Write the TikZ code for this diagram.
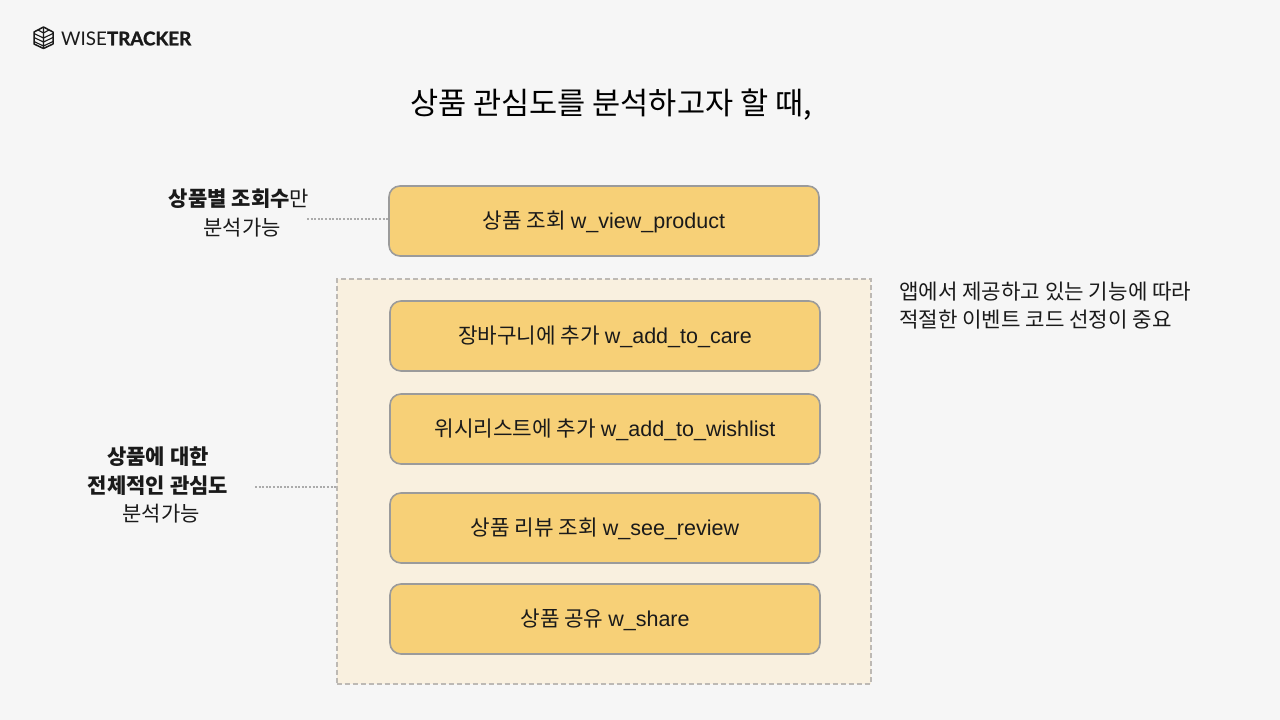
\documentclass[tikz,border=0pt]{standalone}
\usepackage{fontspec}
\setmainfont{Noto Sans CJK KR}
\newfontfamily\logofont[BoldFeatures={FakeBold=1.5}]{Lato}
\newfontfamily\latinfont{Liberation Sans}
\newcommand{\lat}[1]{{\latinfont\fontsize{21.5}{24}\selectfont #1}}
\definecolor{bgc}{HTML}{F6F6F6}
\definecolor{boxc}{HTML}{F7D077}
\definecolor{boxl}{HTML}{9B9B9B}
\definecolor{panelc}{HTML}{F9F0DF}
\definecolor{panell}{HTML}{BDB9B4}
\definecolor{dotc}{HTML}{ABABAB}
\definecolor{inkc}{HTML}{1A1A1A}
\tikzset{
 eventbox/.style={draw=boxl,line width=1.6pt,fill=boxc,rounded corners=11pt,minimum width=430pt,minimum height=70pt,inner sep=0pt,font=\fontsize{21.3}{24}\selectfont,text=inkc,text depth=3pt,text height=17pt},
 sidelabel/.style={align=center,inner sep=0pt,text=inkc,font=\fontsize{21}{28.5}\selectfont},
 noteline/.style={draw=dotc,line width=2pt,dash pattern=on 2pt off 1.6pt},
 panel/.style={draw=panell,line width=2pt,dash pattern=on 5pt off 3pt,fill=panelc,minimum width=534pt,minimum height=405pt,inner sep=0pt},
 logoline/.style={draw=inkc,line width=1.5pt,line join=round}
}
\begin{document}
\begin{tikzpicture}[x=1pt,y=-1pt]
\useasboundingbox (0,0) rectangle (1280,720);
\fill[bgc] (0,0) rectangle (1280,720);
% logo
\draw[logoline] (43.5,27) -- (53,32) -- (53,44) -- (43.5,48.5) -- (34,44) -- (34,32) -- cycle;
\draw[logoline,line width=1.1pt] (43.5,27) -- (43.5,48.5)
 (34,33.5) -- (43.5,38) -- (53,33.5) (34,37.5) -- (43.5,42) -- (53,37.5) (34,41.5) -- (43.5,46) -- (53,41.5)
 (38,30) -- (43.5,33) -- (49,30);
\node[anchor=west,inner sep=0pt,text=inkc,font=\logofont\fontsize{18.8}{22}\selectfont] (logo) at (61,38.5) {WISE\textbf{TRACKER}};
% title
\node[inner sep=0pt,text=black,font=\fontsize{30.6}{38}\selectfont] (title) at (611,105) {상품 관심도를 분석하고자 할 때,};
% panel
\node[panel,anchor=north west] (group) at (335.5,277.5) {};
% boxes
\node[eventbox] (view) at (604,221) {상품 조회 \lat{w\_view\_product}};
\node[eventbox] (cart) at (605,336) {장바구니에 추가 \lat{w\_add\_to\_care}};
\node[eventbox] (wish) at (605,429) {위시리스트에 추가 \lat{w\_add\_to\_wishlist}};
\node[eventbox] (review) at (605,528) {상품 리뷰 조회 \lat{w\_see\_review}};
\node[eventbox] (share) at (605,619) {상품 공유 \lat{w\_share}};
% side labels
\node[sidelabel] (lab1) at (239,213) {\textbf{상품별 조회수}만\\\hspace*{6pt}분석가능};
\node[sidelabel] (lab2) at (158,485) {\textbf{상품에 대한}\\\textbf{전체적인 관심도}\\\hspace*{6pt}분석가능};
\node[anchor=north west,align=left,inner sep=0pt,text=inkc,font=\fontsize{21.2}{28}\selectfont] (note) at (899,281.5) {앱에서 제공하고 있는 기능에 따라\\적절한 이벤트 코드 선정이 중요};
% connectors
\coordinate (c1) at (307,219);
\coordinate (c2) at (255,486.5);
\draw[noteline] (c1) -- (c1 -| view.west);
\draw[noteline] (c2) -- (c2 -| group.west);
\end{tikzpicture}
\end{document}
